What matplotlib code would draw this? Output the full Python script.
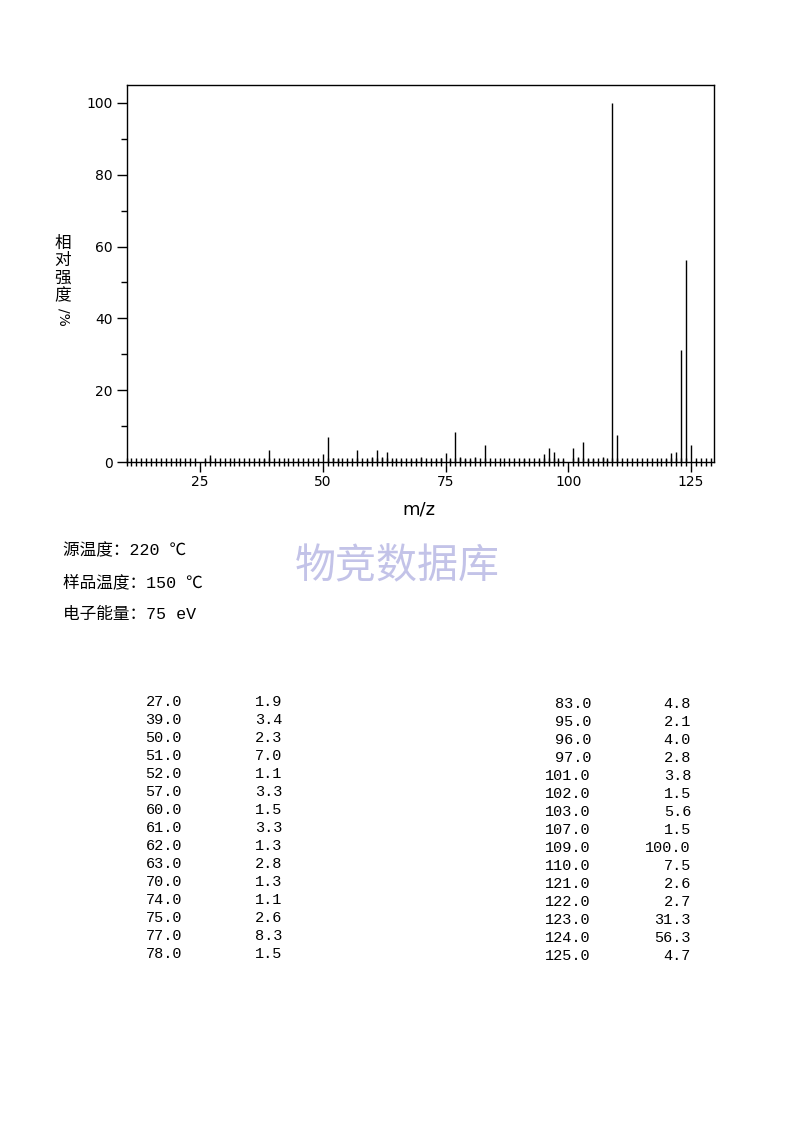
import matplotlib
matplotlib.use("Agg")
import matplotlib.pyplot as plt
from matplotlib.ticker import MultipleLocator

# ---- data ----
table_mz = [27.0, 39.0, 50.0, 51.0, 52.0, 57.0, 60.0, 61.0, 62.0, 63.0, 70.0, 74.0, 75.0, 77.0, 78.0,
            83.0, 95.0, 96.0, 97.0, 101.0, 102.0, 103.0, 107.0, 109.0, 110.0, 121.0, 122.0, 123.0, 124.0, 125.0]
table_int = [1.9, 3.4, 2.3, 7.0, 1.1, 3.3, 1.5, 3.3, 1.3, 2.8, 1.3, 1.1, 2.6, 8.3, 1.5,
             4.8, 2.1, 4.0, 2.8, 3.8, 1.5, 5.6, 1.5, 100.0, 7.5, 2.6, 2.7, 31.3, 56.3, 4.7]
# small peaks visible in the spectrum but not listed in the table (estimated)
minor_mz = [26, 31, 33, 37, 38, 41, 45, 47, 49, 53, 55, 56, 58, 59, 64, 65, 66, 68, 69, 71, 72, 73,
            76, 79, 80, 81, 84, 91, 94, 98, 99, 104, 105, 106, 108, 111, 120, 126]
minor_int = [0.5, 0.4, 0.3, 0.3, 0.9, 0.3, 0.3, 0.3, 0.4, 0.9, 0.3, 0.3, 0.3, 0.6, 0.5, 0.5, 0.5, 0.6, 0.6, 0.4, 0.4, 0.5,
             0.5, 0.9, 0.6, 1.4, 0.3, 0.8, 0.6, 0.6, 0.5, 0.9, 0.8, 0.4, 0.6, 0.4, 0.9, 0.3]

info_lines = ["源温度：220 ℃", "样品温度：150 ℃", "电子能量：75 eV"]
ylabel_chars = ["相", "对", "强", "度"]
watermark = "物竞数据库"

W, H = 794, 1134
fig = plt.figure(figsize=(W / 100, H / 100), dpi=100)
fig.patch.set_facecolor("white")

def fx(x):
    return x / W

def fy(y):
    return 1 - y / H

left, right, top, bottom = 126.5, 714, 85, 462
ax = fig.add_axes([fx(left), fy(bottom), fx(right) - fx(left), fy(top) - fy(bottom)])

all_mz = table_mz + minor_mz
all_int = table_int + minor_int
ax.vlines(all_mz, 0, all_int, colors="black", linewidth=1.0)

ax.set_xlim(10, 129.7)
ax.set_ylim(0, 105)
ax.xaxis.set_major_locator(MultipleLocator(25))
ax.xaxis.set_minor_locator(MultipleLocator(1))
ax.yaxis.set_major_locator(MultipleLocator(20))
ax.yaxis.set_minor_locator(MultipleLocator(10))
for s in ax.spines.values():
    s.set_linewidth(1.0)
ax.tick_params(axis="x", which="major", direction="out", length=7.5, width=1, pad=2, labelsize=10)
ax.tick_params(axis="x", which="minor", direction="inout", length=6, width=1)
ax.tick_params(axis="y", which="major", direction="out", length=7, width=1, pad=3, labelsize=10)
ax.tick_params(axis="y", which="minor", direction="out", length=4.5, width=1)
ax.tick_params(top=False, right=False)

# x label
fig.text(fx(419), fy(509), "m/z", ha="center", va="center", fontsize=13, family="DejaVu Sans")

# y label, stacked characters
cjk = ["Noto Sans CJK SC", "DejaVu Sans"]
for i, ch in enumerate(ylabel_chars):
    fig.text(fx(63), fy(243 + 17.5 * i), ch, ha="center", va="center", fontsize=12, family=cjk)
fig.text(fx(63), fy(317), "/%", ha="center", va="center", fontsize=10, rotation=-90, family="DejaVu Sans")

# info text
mono_cjk = ["Liberation Mono", "Noto Sans CJK SC", "DejaVu Sans"]
for i, line in enumerate(info_lines):
    fig.text(fx(63), fy(550 + 32 * i), line, ha="left", va="center", fontsize=12, family=mono_cjk)

# watermark
fig.text(fx(397), fy(567), watermark, ha="center", va="center", fontsize=29.5,
         color="#c3c3e8", family=cjk)

# peak table
n_left = 15
for i in range(n_left):
    y = 702 + 18 * i
    fig.text(fx(182), fy(y), f"{table_mz[i]:.1f}", ha="right", va="center", fontsize=11, family="Liberation Mono")
    fig.text(fx(282), fy(y), f"{table_int[i]:.1f}", ha="right", va="center", fontsize=11, family="Liberation Mono")
for j in range(n_left, len(table_mz)):
    y = 704 + 18 * (j - n_left)
    fig.text(fx(591), fy(y), f"{table_mz[j]:.1f}", ha="right", va="center", fontsize=11, family="Liberation Mono")
    fig.text(fx(691), fy(y), f"{table_int[j]:.1f}", ha="right", va="center", fontsize=11, family="Liberation Mono")

fig.savefig("out.png", dpi=100, facecolor="white")
